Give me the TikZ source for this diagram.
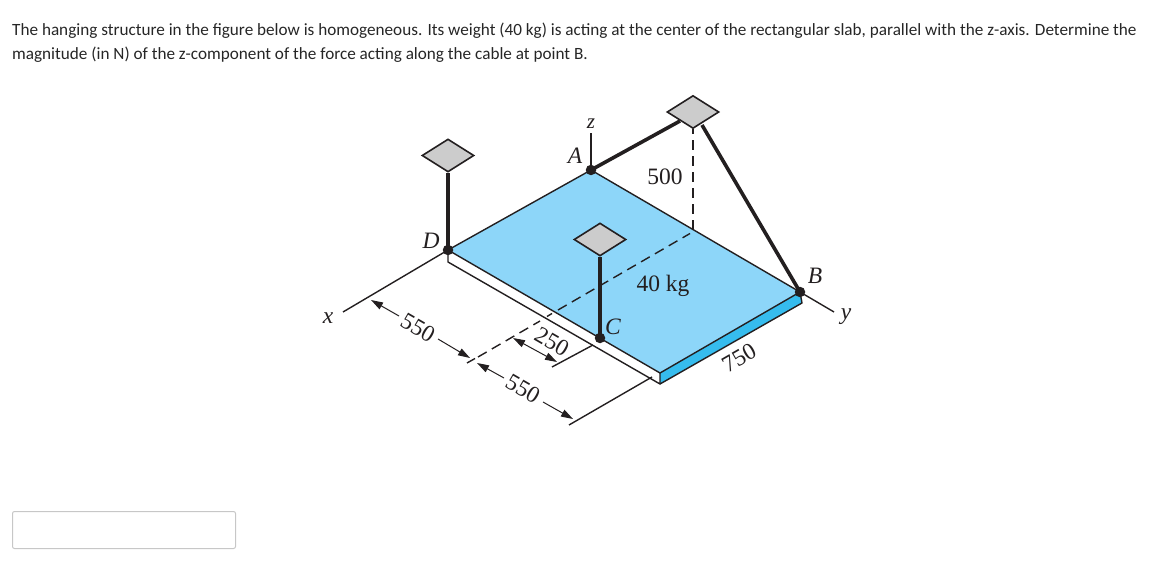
\documentclass[tikz,border=0pt]{standalone}
\usepackage{fontspec}
\setmainfont{Liberation Serif}
\newfontfamily\uifont{Carlito}
\usetikzlibrary{arrows.meta,shapes.geometric}
\definecolor{ink}{HTML}{231F20}
\definecolor{slabtop}{HTML}{8DD6F9}
\definecolor{slabside}{HTML}{36BCEE}
\definecolor{plate}{HTML}{CCCCCC}
\tikzset{
 x=1pt,y=-1pt,
 prose/.style={anchor=base west,inner sep=0,font=\uifont\fontsize{17.17}{20}\selectfont,text=black!85},
 lab/.style={inner sep=0,text=ink,font=\fontsize{23.5}{26}\selectfont},
 ilab/.style={lab,font=\fontsize{23.5}{26}\selectfont\itshape},
 thin line/.style={draw=ink,line width=1.4pt},
 rod/.style={draw=ink,line width=3.6pt},
 dimline/.style={draw=ink,line width=1pt},
 dimarrow/.style={dimline,-{Triangle[length=12pt,width=7.5pt]}},
 dashline/.style={draw=ink,line width=1.4pt,dash pattern=on 10pt off 6pt},
 ceiling/.style={diamond,draw=ink,fill=plate,line width=1.6pt,inner sep=0,minimum width=52pt,minimum height=33pt},
 joint/.style={circle,fill=ink,inner sep=0,minimum size=10.5pt},
}
\begin{document}
\begin{tikzpicture}
\useasboundingbox (0,0) rectangle (1156,564);
\node[prose] (line1) at (12,35.5) {The hanging structure in the figure below is homogeneous. Its weight (40 kg) is acting at the center of the rectangular slab, parallel with the z-axis. Determine the};
\node[prose] (line2) at (12,59.5) {magnitude (in N) of the z-component of the force acting along the cable at point B.};
\node[draw=black!22,line width=1pt,rounded corners=2pt,minimum width=223pt,minimum height=37pt,inner sep=0] (answer) at (124,530) {};
% slab
\coordinate (A) at (591,170); \coordinate (D) at (448,250);
\coordinate (B) at (800,292); \coordinate (F) at (660,373);
\coordinate (Dl) at (448,262); \coordinate (Fl) at (660,384); \coordinate (Bl) at (802,303);
\fill[white] (D)--(F)--(Fl)--(Dl)--cycle;
\fill[slabside] (F)--(B)--(Bl)--(Fl)--cycle;
\fill[slabtop] (A)--(B)--(F)--(D)--cycle;
\draw[thin line,line join=round] (D)--(A)--(B)--(F)--cycle;
\draw[thin line,line join=round] (D)--(Dl)--(Fl)--(F);
\draw[thin line,line join=round] (Fl)--(Bl)--(B);
% axes
\coordinate (xend) at (343,312); \coordinate (yend) at (834,312); \coordinate (zend) at (591,133);
\draw[thin line] (D)--(xend);
\draw[thin line] (B)--(yend);
\draw[thin line] (A)--(zend);
% supports
\node[ceiling] (pA) at (693,112) {};
\node[ceiling] (pC) at (600,239.5) {};
\node[ceiling] (pD) at (448,155.5) {};
% centre lines
\coordinate (m0) at (478,357); \coordinate (m1) at (540,321);
\coordinate (m2) at (547,316.5); \coordinate (m3) at (552,313.5);
\coordinate (m4) at (558,310); \coordinate (m5) at (690,233.5);
\coordinate (top) at (693,230);
\draw[dashline] (m0)--(m1);
\draw[thin line] (m2)--(m3);
\draw[dashline] (m4)--(m5);
\draw[dashline] (top)--(pA.south);
% rods
\coordinate (C) at (600,338);
\coordinate (cA) at (680,121); \coordinate (cB) at (702,125);
\draw[rod] (pD.south)--(D);
\draw[rod] (pC.south)--(C);
\draw[rod] (A)--(cA);
\draw[rod] (cB)--(B);
\node[joint] (jA) at (A) {}; \node[joint] (jB) at (B) {};
\node[joint] (jC) at (C) {}; \node[joint] (jD) at (D) {};
% dimensions
\coordinate (e1) at (371,300); \coordinate (e1a) at (399,316);
\coordinate (e2a) at (438,339); \coordinate (e2) at (470,358);
\coordinate (e3) at (477,363); \coordinate (e3a) at (504,378);
\coordinate (e4a) at (543,402); \coordinate (e4) at (573,419);
\coordinate (e5) at (513,338); \coordinate (e6) at (557,362);
\coordinate (emid) at (535,350);
\draw[dimarrow] (e1a)--(e1);
\draw[dimarrow] (e2a)--(e2);
\draw[dimarrow] (e3a)--(e3);
\draw[dimarrow] (e4a)--(e4);
\draw[dimarrow] (emid)--(e5);
\draw[dimarrow] (emid)--(e6);
\coordinate (t0) at (467,363); \coordinate (t1) at (475,358.5);
\draw[thin line] (t0)--(t1);
\coordinate (g0) at (552,367); \coordinate (g1) at (593,345);
\draw[thin line] (g0)--(g1);
\coordinate (h0) at (569,425); \coordinate (h1) at (652,377);
\draw[thin line] (h0)--(h1);
% labels
\node[ilab] (lx) at (328,318) {x};
\node[ilab] (ly) at (846,317) {y};
\node[ilab,font=\fontsize{21}{24}\selectfont\itshape] (lz) at (591,124) {z};
\node[ilab] (lA) at (575,156) {A};
\node[ilab] (lB) at (815,276) {B};
\node[ilab] (lC) at (613,327) {C};
\node[ilab] (lD) at (431,241) {D};
\node[lab] (l500) at (665,177) {500};
\node[lab] (l40) at (663,286) {40 kg};
\node[lab,rotate=-30] (l550a) at (418,328) {550};
\node[lab,rotate=-30] (l550b) at (523,389) {550};
\node[lab,rotate=-30] (l250) at (552,342) {250};
\node[lab,rotate=30] (l750) at (739,358) {750};
\end{tikzpicture}
\end{document}
